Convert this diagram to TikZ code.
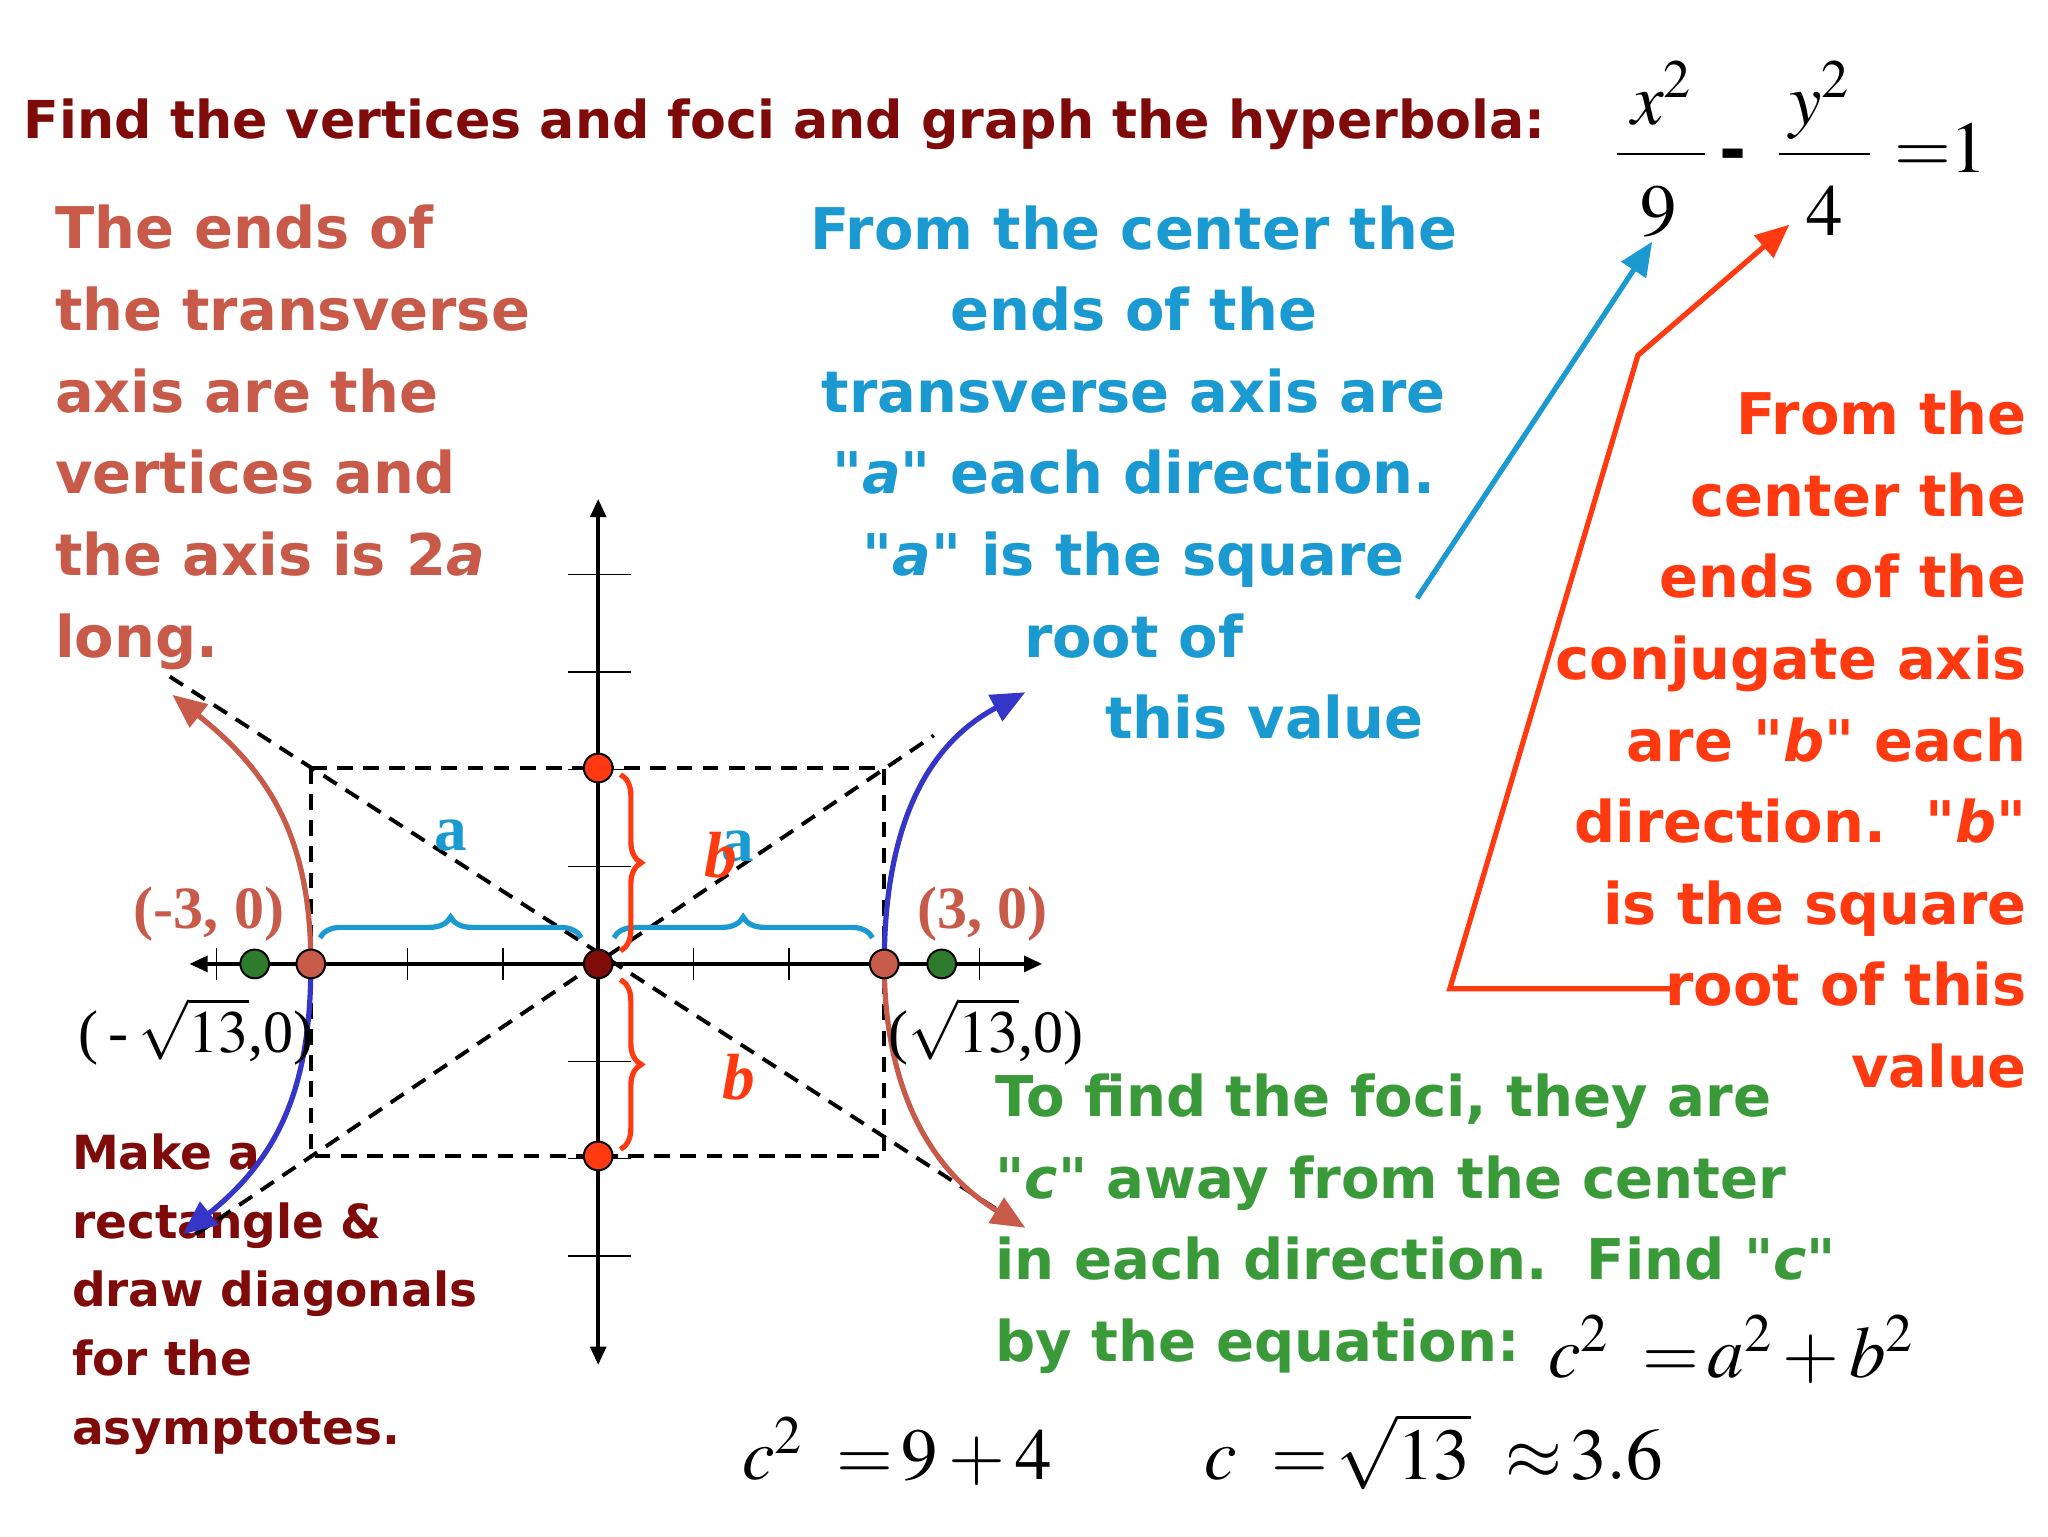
\documentclass[tikz,border=0pt]{standalone}
\usepackage{mathptmx}
\usepackage{fontspec}
\setmainfont{Liberation Serif}
\setsansfont[Ligatures=TeXOff]{DejaVu Sans}
\usetikzlibrary{arrows.meta,decorations.pathreplacing}
\definecolor{dred}{HTML}{7F0A0A}
\definecolor{coral}{HTML}{C85A4A}
\definecolor{cblue}{HTML}{1A9AD0}
\definecolor{ored}{HTML}{FF3A10}
\definecolor{cgreen}{HTML}{3A9A3A}
\definecolor{hblue}{HTML}{3535C8}
\newcommand{\qq}{\char"22\relax}
\tikzset{
 txt/.style={inner sep=0pt,font=\sffamily\bfseries\fontsize{44}{62.5}\selectfont},
 mth/.style={inner sep=0pt,font=\fontsize{56}{60}\selectfont},
 dsh/.style={dashed,dash pattern=on 12pt off 8pt,line width=3pt},
 pt/.style={circle,draw=black,line width=1.5pt,minimum size=22pt,inner sep=0pt},
 brc/.style={decorate,decoration={brace,amplitude=16pt},line width=4pt},
 tip/.style={-{Triangle[length=26pt,width=22pt]}},
}
\begin{document}
\begin{tikzpicture}[x=1pt,y=-1pt]
\useasboundingbox (0,0) rectangle (1568,1176);
\fill[white] (0,0) rectangle (1568,1176);
% title
\node[txt,font=\sffamily\bfseries\fontsize{40}{48}\selectfont,text=dred,anchor=base west] (title) at (18,106) {Find the vertices and foci and graph the hyperbola:};
% title equation
\node[mth,anchor=base] (n1) at (1272,95) {$x^2$};
\node[mth,anchor=base] (d1) at (1270,180) {$9$};
\node[mth,anchor=base] (n2) at (1393,95) {$y^2$};
\node[mth,anchor=base] (d2) at (1397,180) {$4$};
\coordinate (f1a) at (1238,118); \coordinate (f1b) at (1305,118);
\coordinate (f2a) at (1362,118); \coordinate (f2b) at (1432,118);
\draw[line width=2pt] (f1a)--(f1b); \draw[line width=2pt] (f2a)--(f2b);
\node[inner sep=0pt,font=\sffamily\bfseries\fontsize{50}{50}\selectfont,anchor=base] (mn) at (1327,132) {-};
\node[mth,anchor=base west] (eq1) at (1450,132) {$=\!\!1$};
% texts
\node[txt,text=coral,align=left,anchor=north west] (tl) at (42,157) {The ends of\\the transverse\\axis are the\\vertices and\\the axis is 2\textit{a}\\long.};
\node[txt,text=cblue,align=center,anchor=north] (tb) at (868,157) {From the center the\\ends of the\\transverse axis are\\\qq\textit{a}\qq\ each direction.\\\qq\textit{a}\qq\ is the square\\root of\\\hspace*{200pt}this value};
\node[txt,text=ored,align=right,anchor=north east] (tr) at (1552,299) {From the\\center the\\ends of the\\conjugate axis\\are \qq\textit{b}\qq\ each\\direction.\ \ \qq\textit{b}\qq\\is the square\\root of this\\value};
\node[txt,font=\sffamily\bfseries\fontsize{43}{62.5}\selectfont,text=cgreen,align=left,anchor=north west] (tg) at (762,822) {To find the foci, they are\\\qq\textit{c}\qq\ away from the center\\in each direction.\ \ Find \qq\textit{c}\qq\\by the equation:};
\node[txt,font=\sffamily\bfseries\fontsize{36}{52.5}\selectfont,text=dred,align=left,anchor=north west] (td) at (55,868) {Make a\\rectangle \&\\draw diagonals\\for the\\asymptotes.};
\node[mth,anchor=base west] (e1) at (1185,1055) {$c^2\ =\!a^2+b^2$};
\node[mth,anchor=base west] (e2) at (568,1133) {$c^2\ =\!9+4$};
\node[mth,anchor=base west] (e3) at (922,1133) {$c\ =\!\sqrt{13}\ \approx\!3.6$};
% axes
\coordinate (O) at (458,738);
\coordinate (xl) at (145,738); \coordinate (xr) at (798,738);
\coordinate (yt) at (458,382); \coordinate (yb) at (458,1045);
\draw[line width=3pt,{Triangle[length=14pt,width=12pt]}-{Triangle[length=14pt,width=12pt]}] (xl)--(xr);
\draw[line width=3pt,{Triangle[length=14pt,width=12pt]}-{Triangle[length=14pt,width=12pt]}] (yb)--(yt);
\foreach \k in {-4,-3,-2,-1,1,2,3,4} {
 \draw[line width=1pt] (458+73*\k,726)--(458+73*\k,750);
}
\foreach \k in {-4,-3,-2,-1,1,2,3} {
 \draw[line width=1pt] (435,738+74.5*\k)--(483,738+74.5*\k);
}
% rectangle and diagonals
\coordinate (A) at (238,588); \coordinate (B) at (677,588);
\coordinate (C) at (677,885); \coordinate (D) at (238,885);
\draw[dsh] (A)--(B)--(C)--(D)--cycle;
\coordinate (d1a) at (130,518); \coordinate (d1b) at (785,940);
\coordinate (d2a) at (150,945); \coordinate (d2b) at (715,563);
\draw[dsh] (d1a)--(d1b);
\draw[dsh] (d2a)--(d2b);
% hyperbola
\coordinate (V1) at (238,738); \coordinate (V2) at (677,738);
\coordinate (h1) at (785,530); \coordinate (h2) at (785,940);
\coordinate (h3) at (132,532); \coordinate (h4) at (140,945);
\draw[line width=4pt,hblue,tip] (V2) .. controls (677,650) and (700,575) .. (h1);
\draw[line width=4pt,coral,tip] (V2) .. controls (677,830) and (710,895) .. (h2);
\draw[line width=4pt,coral,tip] (V1) .. controls (238,640) and (205,590) .. (h3);
\draw[line width=4pt,hblue,tip] (V1) .. controls (238,830) and (215,885) .. (h4);
% braces
\draw[brc,cblue] (245,718)--(445,718);
\draw[brc,cblue] (470,718)--(668,718);
\draw[brc,ored] (475,593)--(475,728);
\draw[brc,ored] (475,750)--(475,880);
\node[font=\bfseries\fontsize{50}{50}\selectfont,text=cblue] (la1) at (345,640) {a};
\node[font=\bfseries\fontsize{50}{50}\selectfont,text=cblue] (la2) at (565,648) {a};
\node[font=\bfseries\itshape\fontsize{50}{50}\selectfont,text=ored] (lb1) at (552,655) {b};
\node[font=\bfseries\itshape\fontsize{50}{50}\selectfont,text=ored] (lb2) at (566,825) {b};
% points
\node[pt,fill=coral] (v1) at (V1) {};
\node[pt,fill=coral] (v2) at (V2) {};
\node[pt,fill=cgreen!80!black] (f1) at (195,738) {};
\node[pt,fill=cgreen!80!black] (f2) at (721,738) {};
\node[pt,fill=ored] (b1) at (458,588) {};
\node[pt,fill=ored] (b2) at (458,885) {};
\node[pt,fill=dred] (c0) at (O) {};
% labels
\node[font=\bfseries\fontsize{46}{46}\selectfont,text=coral] (l1) at (160,700) {(-3, 0)};
\node[font=\bfseries\fontsize{46}{46}\selectfont,text=coral] (l2) at (752,700) {(3, 0)};
\node[font=\fontsize{46}{46}\selectfont,anchor=west,inner sep=0pt] (l3) at (60,790) {(\,-\,$\sqrt{13}$,0)};
\node[font=\fontsize{46}{46}\selectfont,anchor=west,inner sep=0pt] (l4) at (680,790) {($\sqrt{13}$,0)};
% pointer arrows
\coordinate (pb1) at (1085,458); \coordinate (pb2) at (1265,185);
\draw[line width=4pt,cblue,tip] (pb1)--(pb2);
\coordinate (pr0) at (1282,757); \coordinate (pr1) at (1110,757);
\coordinate (pr2) at (1254,272); \coordinate (pr3) at (1370,172);
\draw[line width=4pt,ored,tip] (pr0)--(pr1)--(pr2)--(pr3);
\end{tikzpicture}
\end{document}
